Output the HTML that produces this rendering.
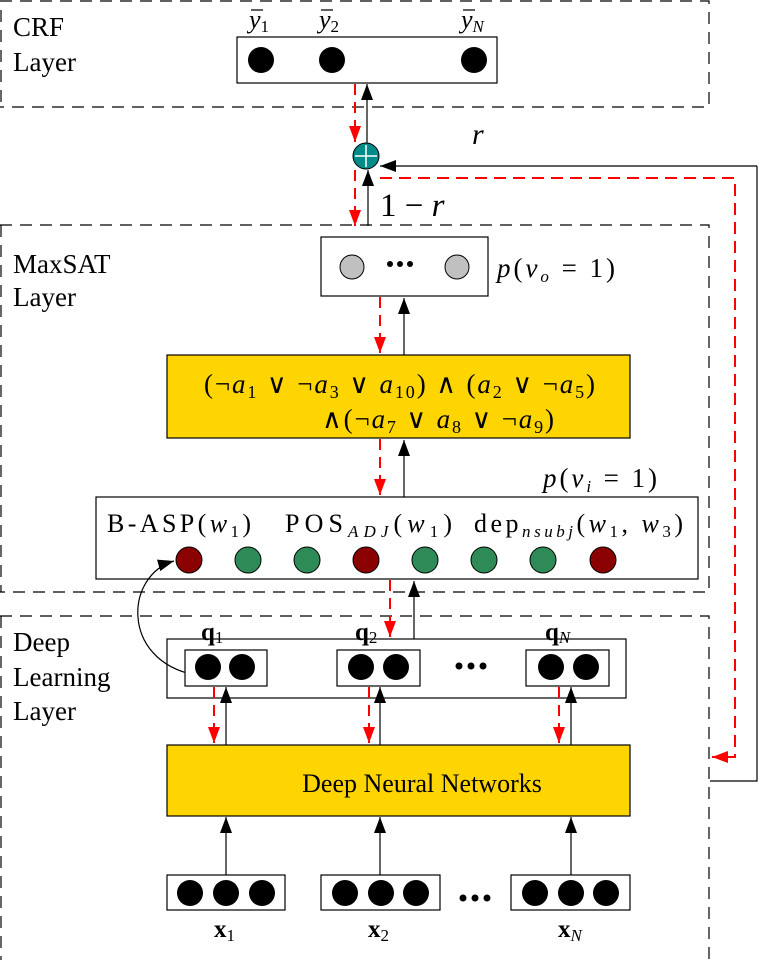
<!DOCTYPE html>
<html><head><meta charset="utf-8"><style>
html,body{margin:0;padding:0;background:#fff}
svg{display:block}
text{font-family:"Liberation Serif",serif;fill:#000}
.i{font-style:italic}
</style></head><body>
<svg width="762" height="960" viewBox="0 0 762 960" xmlns="http://www.w3.org/2000/svg">
<defs>
<marker id="ar" markerWidth="18" markerHeight="14" refX="16" refY="6" orient="auto" markerUnits="userSpaceOnUse"><path d="M0,0 L16,6 L0,12 z" fill="#f00"/></marker>
<marker id="ab2" markerWidth="18" markerHeight="14" refX="16" refY="6" orient="auto" markerUnits="userSpaceOnUse"><path d="M0,0 L16,6 L0,12 z" fill="#000"/></marker>
</defs>
<g fill="none" stroke="#000" stroke-width="1.2" stroke-dasharray="12,8">
<path d="M0,1 H709 V107 H0"/>
<path d="M0,225 H709 V592 H0"/>
<path d="M0,616 H709 V960"/>
<path d="M1,10 V107 M1,225 V592 M1,616 V960"/>
</g>
<g font-size="27">
<text x="13" y="36">CRF</text><text x="13" y="71">Layer</text>
<text x="13" y="273">MaxSAT</text><text x="13" y="306">Layer</text>
<text x="13" y="651">Deep</text><text x="13" y="686">Learning</text><text x="13" y="720">Layer</text>
</g>
<rect x="237" y="37" width="260" height="46" fill="#fff" stroke="#000" stroke-width="1.2"/>
<circle cx="261" cy="60" r="13"/><circle cx="332" cy="60" r="13"/><circle cx="474" cy="60" r="13"/>
<g font-size="26"><text x="249" y="28" class="i">y<tspan font-size="17" font-style="normal" dy="4">1</tspan></text>
<text x="319" y="28" class="i">y<tspan font-size="17" font-style="normal" dy="4">2</tspan></text>
<text x="461" y="28" class="i">y<tspan font-size="17" dy="4">N</tspan></text></g>
<g stroke="#000" stroke-width="1.3"><path d="M251,10 h12 M321,10 h12 M463,10 h12"/></g>
<path d="M355,84 V142" stroke="#f00" stroke-width="2" stroke-dasharray="11,7" fill="none" marker-end="url(#ar)"/>
<path d="M367,143 V84" stroke="#000" stroke-width="1.2" fill="none" marker-end="url(#ab2)"/>
<circle cx="366" cy="156" r="13" fill="#008B8B" stroke="#000" stroke-width="1"/>
<path d="M366,145 V167 M355,156 H377" stroke="#fff" stroke-width="1.5"/>
<path d="M757,166 H380" stroke="#000" stroke-width="1.2" fill="none" marker-end="url(#ab2)"/>
<path d="M757,166 V781 H710" stroke="#000" stroke-width="1.2" fill="none"/>
<path d="M380,178 H735 V757 H712" stroke="#f00" stroke-width="2" stroke-dasharray="12,7" fill="none" marker-end="url(#ar)"/>
<path d="M355,170 V226" stroke="#f00" stroke-width="2" stroke-dasharray="11,7" fill="none" marker-end="url(#ar)"/>
<path d="M368,226 V170" stroke="#000" stroke-width="1.2" fill="none" marker-end="url(#ab2)"/>
<text x="472" y="144" font-size="30" class="i">r</text>
<text x="380" y="216" font-size="33">1 − <tspan class="i">r</tspan></text>
<rect x="321" y="237" width="167" height="59" fill="#fff" stroke="#000" stroke-width="1.2"/>
<circle cx="352" cy="267" r="12" fill="#c0c0c0" stroke="#000"/><circle cx="457" cy="267" r="12" fill="#c0c0c0" stroke="#000"/>
<circle cx="390" cy="264" r="3"/><circle cx="400" cy="264" r="3"/><circle cx="410" cy="264" r="3"/>
<text x="497" y="277" font-size="27" textLength="118" lengthAdjust="spacing"><tspan class="i">p</tspan>(<tspan class="i">v</tspan><tspan font-size="17" class="i" dy="5">o</tspan><tspan dy="-5"> = 1)</tspan></text>
<path d="M380,297 V353" stroke="#f00" stroke-width="2" stroke-dasharray="11,7" fill="none" marker-end="url(#ar)"/>
<path d="M404,355 V298" stroke="#000" stroke-width="1.2" fill="none" marker-end="url(#ab2)"/>
<rect x="167" y="355" width="463" height="83" fill="#FFD500" stroke="#000" stroke-width="1.2"/>
<text x="204" y="393" font-size="27" textLength="391" lengthAdjust="spacing">(¬<tspan class="i">a</tspan><tspan font-size="18" dy="5">1</tspan><tspan dy="-5"> ∨ ¬</tspan><tspan class="i">a</tspan><tspan font-size="18" dy="5">3</tspan><tspan dy="-5"> ∨ </tspan><tspan class="i">a</tspan><tspan font-size="18" dy="5">10</tspan><tspan dy="-5">) ∧ (</tspan><tspan class="i">a</tspan><tspan font-size="18" dy="5">2</tspan><tspan dy="-5"> ∨ ¬</tspan><tspan class="i">a</tspan><tspan font-size="18" dy="5">5</tspan><tspan dy="-5">)</tspan></text>
<text x="322" y="428" font-size="27" textLength="232" lengthAdjust="spacing">∧(¬<tspan class="i">a</tspan><tspan font-size="18" dy="5">7</tspan><tspan dy="-5"> ∨ </tspan><tspan class="i">a</tspan><tspan font-size="18" dy="5">8</tspan><tspan dy="-5"> ∨ ¬</tspan><tspan class="i">a</tspan><tspan font-size="18" dy="5">9</tspan><tspan dy="-5">)</tspan></text>
<path d="M380,439 V495" stroke="#f00" stroke-width="2" stroke-dasharray="11,7" fill="none" marker-end="url(#ar)"/>
<path d="M404,497 V440" stroke="#000" stroke-width="1.2" fill="none" marker-end="url(#ab2)"/>
<text x="543" y="487" font-size="27" textLength="114" lengthAdjust="spacing"><tspan class="i">p</tspan>(<tspan class="i">v</tspan><tspan font-size="17" class="i" dy="5">i</tspan><tspan dy="-5"> = 1)</tspan></text>
<rect x="96" y="497" width="602" height="82" fill="#fff" stroke="#000" stroke-width="1.2"/>
<text x="107" y="532" font-size="26" textLength="144" lengthAdjust="spacing">B-ASP(<tspan class="i">w</tspan><tspan font-size="17" dy="5">1</tspan><tspan dy="-5">)</tspan></text>
<text x="285" y="532" font-size="26" textLength="167" lengthAdjust="spacing">POS<tspan font-size="17" class="i" dy="5">ADJ</tspan><tspan dy="-5">(</tspan><tspan class="i">w</tspan><tspan font-size="17" dy="5">1</tspan><tspan dy="-5">)</tspan></text>
<text x="474" y="532" font-size="26" textLength="209" lengthAdjust="spacing">dep<tspan font-size="17" class="i" dy="5">nsubj</tspan><tspan dy="-5">(</tspan><tspan class="i">w</tspan><tspan font-size="17" dy="5">1</tspan><tspan dy="-5">, </tspan><tspan class="i">w</tspan><tspan font-size="17" dy="5">3</tspan><tspan dy="-5">)</tspan></text>
<g stroke="#000" stroke-width="1">
<circle cx="189" cy="560" r="13" fill="#8B0000"/><circle cx="248" cy="560" r="13" fill="#2E8B57"/>
<circle cx="307" cy="560" r="13" fill="#2E8B57"/><circle cx="366" cy="560" r="13" fill="#8B0000"/>
<circle cx="425" cy="560" r="13" fill="#2E8B57"/><circle cx="484" cy="560" r="13" fill="#2E8B57"/>
<circle cx="543" cy="560" r="13" fill="#2E8B57"/><circle cx="603" cy="560" r="13" fill="#8B0000"/>
</g>
<path d="M195,675 C120,660 125,575 174,561" stroke="#000" stroke-width="1.2" fill="none" marker-end="url(#ab2)"/>
<path d="M390,580 V637" stroke="#f00" stroke-width="2" stroke-dasharray="11,7" fill="none" marker-end="url(#ar)"/>
<path d="M414,639 V581" stroke="#000" stroke-width="1.2" fill="none" marker-end="url(#ab2)"/>
<rect x="167" y="639" width="459" height="59" fill="none" stroke="#000" stroke-width="1.2"/>
<rect x="185" y="650" width="82" height="36" fill="#fff" stroke="#000" stroke-width="1.2"/>
<rect x="337" y="650" width="83" height="36" fill="#fff" stroke="#000" stroke-width="1.2"/>
<rect x="526" y="650" width="83" height="36" fill="#fff" stroke="#000" stroke-width="1.2"/>
<circle cx="208" cy="667" r="13"/><circle cx="242" cy="667" r="13"/>
<circle cx="361" cy="667" r="13"/><circle cx="396" cy="667" r="13"/>
<circle cx="551" cy="667" r="13"/><circle cx="586" cy="667" r="13"/>
<circle cx="459" cy="666" r="3.5"/><circle cx="471" cy="666" r="3.5"/><circle cx="483" cy="666" r="3.5"/>
<g font-size="25" font-weight="bold"><text x="201" y="640">q<tspan font-size="17" font-weight="normal" dy="3">1</tspan></text>
<text x="355" y="640">q<tspan font-size="17" font-weight="normal" dy="3">2</tspan></text>
<text x="545" y="640">q<tspan font-size="17" font-weight="normal" class="i" dy="3">N</tspan></text></g>
<g stroke="#f00" stroke-width="2" stroke-dasharray="11,7" fill="none">
<path d="M214,687 V743" marker-end="url(#ar)"/><path d="M369,687 V743" marker-end="url(#ar)"/><path d="M559,687 V743" marker-end="url(#ar)"/></g>
<g stroke="#000" stroke-width="1.2" fill="none">
<path d="M226,745 V687" marker-end="url(#ab2)"/><path d="M380,745 V687" marker-end="url(#ab2)"/><path d="M571,745 V687" marker-end="url(#ab2)"/></g>
<rect x="167" y="745" width="463" height="71" fill="#FFD500" stroke="#000" stroke-width="1.2"/>
<text x="422" y="792" font-size="26" text-anchor="middle">Deep Neural Networks</text>
<g stroke="#000" stroke-width="1.2" fill="none">
<path d="M226,875 V817" marker-end="url(#ab2)"/><path d="M380,875 V817" marker-end="url(#ab2)"/><path d="M571,875 V817" marker-end="url(#ab2)"/></g>
<g fill="#fff" stroke="#000" stroke-width="1.2">
<rect x="167" y="875" width="118" height="35"/><rect x="321" y="875" width="119" height="35"/><rect x="511" y="875" width="119" height="35"/></g>
<circle cx="190" cy="893" r="13"/><circle cx="226" cy="893" r="13"/><circle cx="262" cy="893" r="13"/>
<circle cx="345" cy="893" r="13"/><circle cx="381" cy="893" r="13"/><circle cx="416" cy="893" r="13"/>
<circle cx="535" cy="893" r="13"/><circle cx="571" cy="893" r="13"/><circle cx="606" cy="893" r="13"/>
<circle cx="463" cy="898" r="3.5"/><circle cx="475" cy="898" r="3.5"/><circle cx="487" cy="898" r="3.5"/>
<g font-size="25" font-weight="bold"><text x="214" y="937">x<tspan font-size="17" font-weight="normal" dy="4">1</tspan></text>
<text x="368" y="937">x<tspan font-size="17" font-weight="normal" dy="4">2</tspan></text>
<text x="558" y="937">x<tspan font-size="17" font-weight="normal" class="i" dy="4">N</tspan></text></g>
</svg>
</body></html>
